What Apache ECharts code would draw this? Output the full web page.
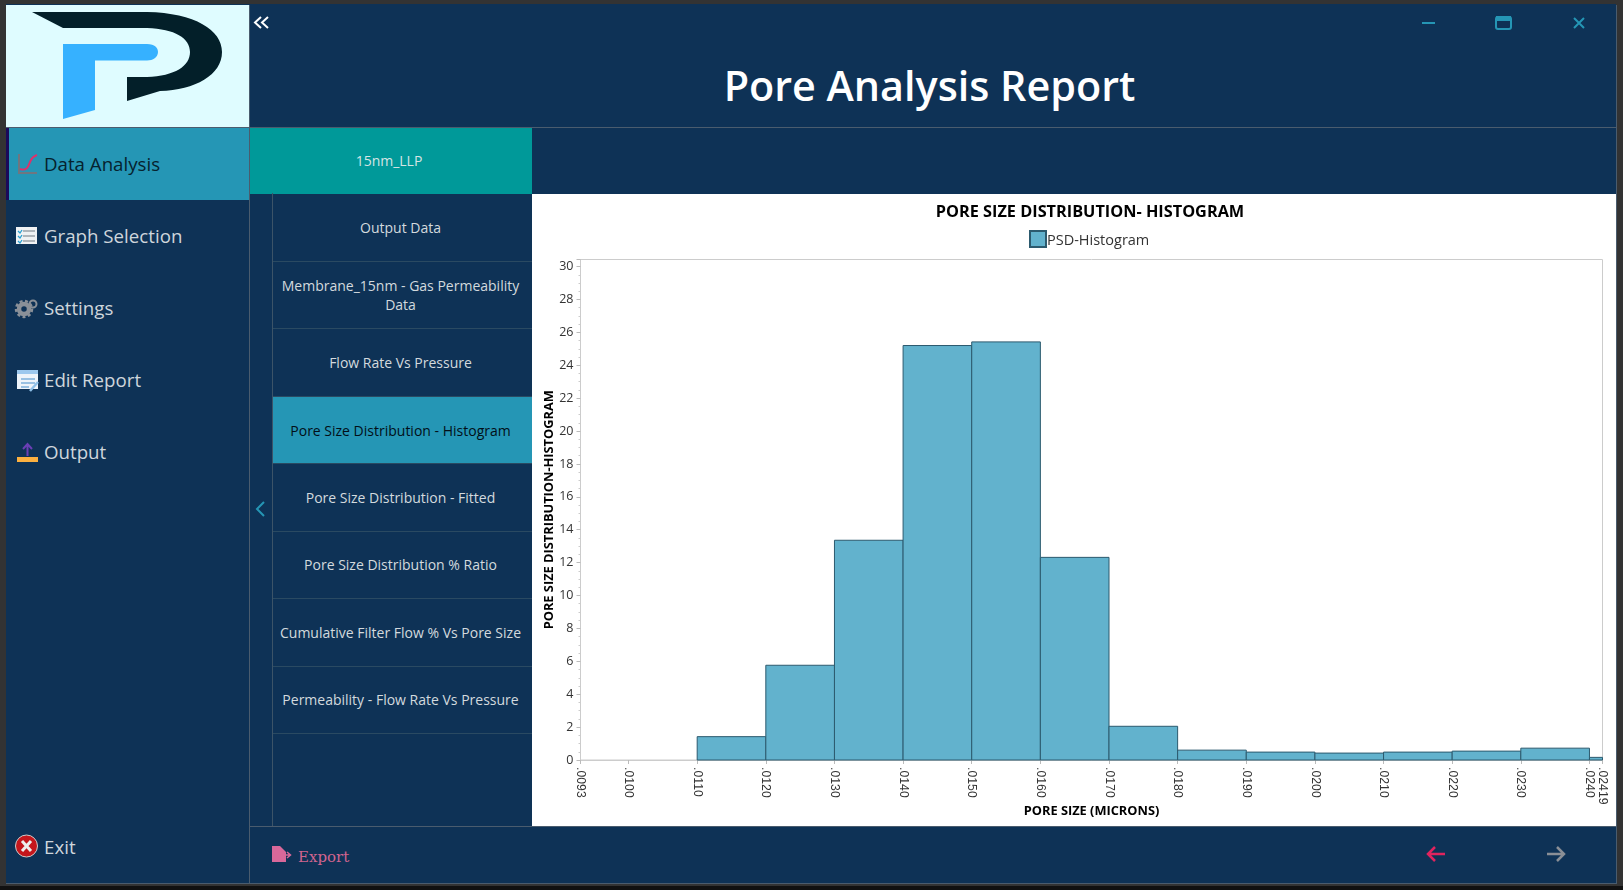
<!DOCTYPE html>
<html>
<head>
<meta charset="utf-8">
<title>Pore Analysis Report</title>
<script src="https://cdn.jsdelivr.net/npm/echarts@6/dist/echarts.min.js"></script>
<style>
html, body { margin: 0; padding: 0; width: 1623px; height: 890px; overflow: hidden; background: #333; font-family: "Open Sans", sans-serif; }
.box { position: absolute; box-sizing: border-box; }
.center { display: flex; align-items: center; justify-content: center; text-align: center; }
#app { position: absolute; left: 6px; top: 4px; width: 1610px; height: 880px; background: #0e3256; }
.side { position: absolute; left: 44px; font-size: 18.7px; color: #ced6dc; line-height: 26px; white-space: nowrap; }
.row { position: absolute; left: 273px; width: 255px; color: #d3dade; font-size: 14px; line-height: 19px; padding: 0 6px; }
.rowline { position: absolute; left: 273px; width: 259px; height: 1px; background: #2a4a62; }
svg { position: absolute; overflow: visible; }
</style>
</head>
<body>
<div id="app"></div>
<svg id="frame" style="left:0;top:0" width="1623" height="890">
  <rect x="0" y="886" width="1623" height="4" fill="#111"/>
  <!-- logo -->
  <rect x="6" y="5" width="243" height="122" fill="#dffcff"/>
  <path d="M32 12 L147 12 C195 13 222 30 222 52 C222 75 195 90 160 91 L127 101 L127 77 L147 77 C175 76 190 66 190 52 C190 38 175 29 147 28 L63 28 Z" fill="#031f29"/>
  <path d="M63 44 L147 44 C155 44 158 48 158 52 C158 57 153 60.5 147 60.5 L95 60.5 L95 110 L63 119 Z" fill="#36b1ff"/>
  <!-- panel lines -->
  <rect x="249" y="5" width="1" height="879" fill="#4a5c6e"/>
  <rect x="249" y="127" width="1367" height="1" fill="#4a5c6e"/>
  <rect x="6" y="127" width="243" height="1" fill="#4a5c6e"/>
  <rect x="6" y="128" width="243" height="72" fill="#2596b5"/>
  <rect x="6" y="128" width="3" height="72" fill="#1a0a5a"/>
  <rect x="250" y="128" width="282" height="66" fill="#009999"/>
  <rect x="272" y="193" width="1" height="633" fill="#3c5468"/>
  <rect x="250" y="826" width="1366" height="1" fill="#4a5c6e"/>
  <rect x="6" y="883" width="1610" height="1" fill="#4a5c6e"/>
  <rect x="1616" y="5" width="1" height="879" fill="#4a5c6e"/>
  <!-- collapse chevrons and window buttons -->
  <path d="M261 17 L255 22.5 L261 28 M268 17 L262 22.5 L268 28" fill="none" stroke="#fff" stroke-width="2"/>
  <path d="M264 502 L257 509 L264 516" fill="none" stroke="#2596b5" stroke-width="2"/>
  <rect x="1422" y="22" width="13" height="2" fill="#2596b5"/>
  <rect x="1496" y="17" width="15" height="12" rx="2" fill="none" stroke="#2596b5" stroke-width="2"/>
  <rect x="1496" y="16" width="15" height="5" fill="#2596b5"/>
  <path d="M1574 18 L1584 28 M1584 18 L1574 28" stroke="#2596b5" stroke-width="2"/>
  <!-- side icons -->
  <path d="M19 154 L19 173 L37 173" fill="none" stroke="#6f7680" stroke-width="2"/>
  <path d="M20 169 C26 171 28 168 30 162 C32 157 34 156 37 155" fill="none" stroke="#e0306a" stroke-width="2"/>
  <rect x="16" y="227" width="21" height="17" fill="#f0f2f4"/>
  <path d="M23 231 h12 M23 236 h12 M23 241 h12" stroke="#9aa2a8" stroke-width="1.5"/>
  <path d="M18 231 l2 2 l2 -3 M18 236 l2 2 l2 -3 M18 241 l2 2 l2 -3" fill="none" stroke="#2a9fd0" stroke-width="1.3"/>
  <circle cx="24" cy="309" r="5" fill="none" stroke="#8a9098" stroke-width="4.5"/>
  <circle cx="24" cy="309" r="8" fill="none" stroke="#8a9098" stroke-width="2.5" stroke-dasharray="3 2.5"/>
  <circle cx="33" cy="304" r="3.5" fill="none" stroke="#8a9098" stroke-width="2"/>
  <rect x="17" y="370" width="21" height="19" fill="#eef4fa"/>
  <rect x="17" y="370" width="21" height="4" fill="#9cc8ee"/>
  <path d="M21 379 h14 M21 383 h14 M21 387 h8" stroke="#7db0dc" stroke-width="1.5"/>
  <path d="M30 391 L38 382" stroke="#8fc0e8" stroke-width="2.5"/>
  <rect x="17" y="457" width="21" height="5" fill="#fbb040"/>
  <path d="M27.5 444 L27.5 456 M23 449 L27.5 444 L32 449" fill="none" stroke="#6a3fb5" stroke-width="2"/>
  <circle cx="26.5" cy="846" r="11" fill="#c4161c" stroke="#ccc" stroke-width="1"/>
  <path d="M22 841 L31 851 M31 841 L22 851" stroke="#eee" stroke-width="3"/>
  <!-- footer icons -->
  <path d="M272 846 L280 846 L286 852 L286 862 L272 862 Z" fill="#d9689a"/>
  <path d="M279 855 L290 855 M287 852 L290.5 855 L287 858" fill="none" stroke="#d9689a" stroke-width="1.5"/>
  <path d="M1445 854 L1428 854 M1435 847 L1428 854 L1435 861" fill="none" stroke="#e0245e" stroke-width="2.5"/>
  <path d="M1547 854 L1564 854 M1557 847 L1564 854 L1557 861" fill="none" stroke="#8a8f96" stroke-width="2.5"/>
</svg>
<div id="chrome"></div>
<div class="box" id="chart" style="left:532px;top:194px;width:1084px;height:632px;background:#fff"></div>
<script>
var sideLabels = ['Data Analysis', 'Graph Selection', 'Settings', 'Edit Report', 'Output', 'Exit'];
var sideCenters = [165, 237, 309, 381, 453, 848];
var menuLabels = ['Output Data', 'Membrane_15nm - Gas Permeability Data', 'Flow Rate Vs Pressure',
    'Pore Size Distribution - Histogram', 'Pore Size Distribution - Fitted', 'Pore Size Distribution % Ratio',
    'Cumulative Filter Flow % Vs Pore Size', 'Permeability - Flow Rate Vs Pressure'];
var menuEdges = [194, 262, 329, 397, 464, 532, 599, 667, 734];

// histogram bins, pore size in microns
var binEdges = [0.0110, 0.0120, 0.0130, 0.0140, 0.0150, 0.0160, 0.0170, 0.0180, 0.0190, 0.0200, 0.0210, 0.0220, 0.0230, 0.0240, 0.02419];
var binValues = [1.42, 5.76, 13.36, 25.2, 25.42, 12.32, 2.05, 0.6, 0.48, 0.42, 0.48, 0.54, 0.72, 0.16];
var xTicks = [0.0093, 0.0100, 0.0110, 0.0120, 0.0130, 0.0140, 0.0150, 0.0160, 0.0170, 0.0180, 0.0190, 0.0200, 0.0210, 0.0220, 0.0230, 0.0240, 0.02419];
var xTickLabels = ['.0093', '.0100', '.0110', '.0120', '.0130', '.0140', '.0150', '.0160', '.0170', '.0180', '.0190', '.0200', '.0210', '.0220', '.0230', '.0240', '.02419'];

var chrome = document.getElementById('chrome');

function addText(css, cls, text) {
    var el = document.createElement('div');
    el.className = cls;
    el.style.cssText = css;
    el.textContent = text;
    chrome.appendChild(el);
}

sideLabels.forEach(function (label, i) {
    addText('top:' + (sideCenters[i] - 14) + 'px;' + (i === 0 ? 'color:#06222e;' : ''), 'side', label);
});

menuLabels.forEach(function (label, i) {
    var top = menuEdges[i];
    var h = menuEdges[i + 1] - top;
    var css = 'top:' + (top - 1) + 'px;height:' + h + 'px;box-sizing:border-box;';
    if (i === 3) {
        css = 'top:' + top + 'px;height:' + h + 'px;box-sizing:border-box;background:#2596b5;color:#020f18;width:259px;padding:0 8px 0 4px;';
    }
    addText(css, 'row center', label);
    var line = document.createElement('div');
    line.className = 'rowline';
    line.style.top = (top + h - 1) + 'px';
    chrome.appendChild(line);
});

addText('left:250px;top:127px;width:278px;height:66px;color:#d6e4e4;font-size:14px', 'box center', '15nm_LLP');
addText('left:246.5px;top:48px;width:1366px;height:74px;color:#fff;font-size:41.3px;font-weight:600', 'box center', 'Pore Analysis Report');
addText('left:298px;top:848px;color:#d0648f;font-size:15px;font-family:\'DejaVu Serif\',serif', 'box', 'Export');

var chart = echarts.init(document.getElementById('chart'));

function renderBin(params, api) {
    var start = api.coord([api.value(0), api.value(2)]);
    var end = api.coord([api.value(1), 0]);
    return {
        type: 'rect',
        shape: { x: start[0], y: start[1], width: end[0] - start[0], height: end[1] - start[1] },
        style: api.style()
    };
}

var binData = binValues.map(function (val, i) {
    return [binEdges[i], binEdges[i + 1], val];
});

chart.setOption({
    animation: false,
    textStyle: { fontFamily: 'Open Sans' },
    title: {
        text: 'PORE SIZE DISTRIBUTION- HISTOGRAM',
        left: 553,
        textAlign: 'center',
        top: 5,
        textStyle: { fontSize: 16.3, fontWeight: 'bold', color: '#000' }
    },
    legend: {
        top: 31,
        left: 492,
        icon: 'rect',
        itemWidth: 16,
        itemHeight: 16,
        itemGap: 2,
        formatter: '{a|{name}}',
        textStyle: {
            rich: { a: { fontSize: 14.5, color: '#333', padding: [4, 0, 0, -4] } }
        },
        data: ['PSD-Histogram']
    },
    grid: {
        left: 48.5,
        right: 13.5,
        top: 65.5,
        bottom: 66,
        outerBoundsMode: 'none',
        show: true,
        borderColor: '#ccc',
        borderWidth: 1
    },
    xAxis: {
        type: 'value',
        min: 0.0093,
        max: 0.02419,
        name: 'PORE SIZE (MICRONS)',
        nameLocation: 'middle',
        nameGap: 45,
        nameMoveOverlap: false,
        nameTextStyle: { fontSize: 12.8, fontWeight: 'bold', color: '#000' },
        splitLine: { show: false },
        axisLine: { lineStyle: { color: '#ccc' } },
        axisTick: { length: 4, customValues: xTicks, lineStyle: { color: '#bbb' } },
        axisLabel: {
            rotate: -90,
            margin: 7,
            fontSize: 12.3,
            color: '#333',
            fontFamily: 'Liberation Sans',
            verticalAlignMinLabel: 'middle',
            customValues: xTicks,
            formatter: function (val) {
                var idx = xTicks.indexOf(val);
                return idx >= 0 ? xTickLabels[idx] : '';
            }
        }
    },
    yAxis: {
        type: 'value',
        min: 0,
        max: 30.43,
        interval: 2,
        name: 'PORE SIZE DISTRIBUTION-HISTOGRAM',
        nameLocation: 'middle',
        nameGap: 25,
        nameMoveOverlap: false,
        nameTextStyle: { fontSize: 12.8, fontWeight: 'bold', color: '#000' },
        splitLine: { show: false },
        axisLine: { show: true, lineStyle: { color: '#ccc' } },
        axisTick: { show: true, length: 4, lineStyle: { color: '#bbb' } },
        minorTick: { show: true, splitNumber: 4, length: 2, lineStyle: { color: '#ccc' } },
        axisLabel: { showMaxLabel: false, margin: 7, fontSize: 12.5, color: '#333' }
    },
    series: [{
        name: 'PSD-Histogram',
        type: 'custom',
        renderItem: renderBin,
        encode: { x: [0, 1], y: 2 },
        itemStyle: { color: '#62b2cd', borderColor: '#2c5a6e', borderWidth: 1 },
        data: binData
    }]
});
</script>
</body>
</html>
